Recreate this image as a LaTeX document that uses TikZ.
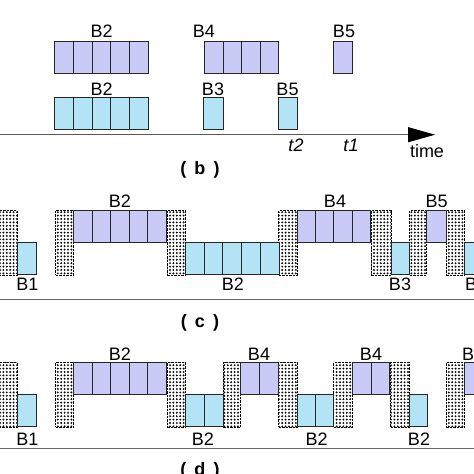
\documentclass[tikz,border=0pt]{standalone}
\usepackage{fontspec}
\setmainfont{Liberation Sans}
\usetikzlibrary{arrows.meta, patterns.meta}

\definecolor{lav}{HTML}{CACAF6}
\definecolor{sky}{HTML}{B2E4F6}

% a row of n equal slots: name, x, y, n, width, style
\newcommand{\cellrow}[6]{%
  \foreach \k in {1,...,#4}
    \node[#6, minimum width=#5pt, anchor=north west] (#1-\k) at ({#2+(\k-1)*#5},#3) {};}

\begin{document}
\begin{tikzpicture}[x=1pt, y=-1pt, font=\fontsize{18}{21}\selectfont,
  up/.style = {draw=black!85, fill=lav, line width=0.9pt, inner sep=0pt, minimum height=32pt},
  down/.style = {draw=black!85, fill=sky, line width=0.9pt, inner sep=0pt, minimum height=32pt},
  guard/.style = {draw, dash pattern=on 2.5pt off 1pt, line width=1pt, fill=white,
    postaction={pattern={Dots[distance=3.4pt, radius=1.05pt]}},
    inner sep=0pt, minimum height=64.5pt, anchor=north west},
  lbl/.style = {inner sep=0pt},
  caption/.style = {inner sep=0pt, font=\fontsize{18}{21}\selectfont\bfseries},
  rule/.style = {draw=black!60, line width=1pt}
]
\clip (0,0) rectangle (474,474);
\fill[white] (0,0) rectangle (474,474);

% (b)
\cellrow{bup2}{54.3}{40.7}{5}{18.7}{up}
\cellrow{bup4}{204}{40.7}{4}{18.6}{up}
\cellrow{bup5}{333.3}{40.7}{1}{19}{up}
\cellrow{bdn2}{54.3}{96.7}{5}{18.7}{down}
\cellrow{bdn3}{202.7}{96.7}{1}{20}{down}
\cellrow{bdn5}{278.3}{96.7}{1}{19}{down}
\node[lbl] (lb_up2) at (101.7,31.7) {B2};
\node[lbl] (lb_up4) at (204,31.7) {B4};
\node[lbl] (lb_up5) at (344,31.7) {B5};
\node[lbl] (lb_dn2) at (101.7,89) {B2};
\node[lbl] (lb_dn3) at (213,89) {B3};
\node[lbl] (lb_dn5) at (287.5,89) {B5};
\coordinate (ax_start) at (0,134.7);
\coordinate (ax_end) at (435,134.7);
\draw[black!65, line width=1pt, -{Triangle[length=27pt, width=15pt, color=black]}] (ax_start) -- (ax_end);
\node[lbl] (t2) at (296,145) {\itshape t2};
\node[lbl] (t1) at (351,145) {\itshape t1};
\node[lbl] (time) at (427,151) {time};
\node[caption] (cap_b) at (200,170) {(\hspace{0.45em}b\hspace{0.45em})};

% (c)
\node[guard, minimum width=18.7pt] (cg1) at (-2,210) {};
\node[guard, minimum width=18.3pt] (cg2) at (55,210) {};
\node[guard, minimum width=18.3pt] (cg3) at (166.7,210) {};
\node[guard, minimum width=18.4pt] (cg4) at (278.3,210) {};
\node[guard, minimum width=20pt] (cg5) at (370.7,210) {};
\node[guard, minimum width=16.7pt] (cg6) at (409.3,210) {};
\node[guard, minimum width=18.3pt] (cg7) at (445.7,210) {};
\cellrow{cdn1}{16.7}{241.7}{1}{19}{down}
\cellrow{cup2}{73.3}{210}{5}{18.5}{up}
\cellrow{cdn2}{185}{241.7}{5}{18.7}{down}
\cellrow{cup4}{296.7}{210}{4}{18.3}{up}
\cellrow{cdn3}{390.7}{241.7}{1}{18.6}{down}
\cellrow{cup5}{426}{210}{1}{19.7}{up}
\cellrow{cdnx}{464}{241.7}{1}{18}{down}
\node[lbl] (lc_up2) at (120,201) {B2};
\node[lbl] (lc_up4) at (335,201) {B4};
\node[lbl] (lc_up5) at (436.7,201) {B5};
\node[lbl] (lc_dn1) at (27.5,284) {B1};
\node[lbl] (lc_dn2) at (233,284) {B2};
\node[lbl] (lc_dn3) at (400,284) {B3};
\node[lbl, anchor=west] (lc_dnx) at (465,284) {B};
\coordinate (sep_c_l) at (0,299.3);
\coordinate (sep_c_r) at (474,299.3);
\draw[rule] (sep_c_l) -- (sep_c_r);
\node[caption] (cap_c) at (200,323) {(\hspace{0.45em}c\hspace{0.45em})};

% (d)
\node[guard, minimum width=18.7pt] (dg1) at (-2,362.3) {};
\node[guard, minimum width=18.3pt] (dg2) at (55,362.3) {};
\node[guard, minimum width=18.3pt] (dg3) at (166.7,362.3) {};
\node[guard, minimum width=17.3pt] (dg4) at (222.7,362.3) {};
\node[guard, minimum width=18.4pt] (dg5) at (278.3,362.3) {};
\node[guard, minimum width=18.4pt] (dg6) at (333.3,362.3) {};
\node[guard, minimum width=19.3pt] (dg7) at (390,362.3) {};
\node[guard, minimum width=18.3pt] (dg8) at (445.7,362.3) {};
\cellrow{ddn1}{16.7}{394}{1}{19}{down}
\cellrow{dup2}{73.3}{362.3}{5}{18.5}{up}
\cellrow{ddn2}{185}{394}{2}{18.85}{down}
\cellrow{dup4}{240}{362.3}{2}{19.15}{up}
\cellrow{ddn2b}{296.7}{394}{2}{18.3}{down}
\cellrow{dup4b}{351.7}{362.3}{2}{18.8}{up}
\cellrow{ddn2c}{409.3}{394}{1}{17.4}{down}
\cellrow{dupx}{464}{362.3}{1}{18}{up}
\node[lbl] (ld_up2) at (120,354) {B2};
\node[lbl] (ld_up4) at (259,354) {B4};
\node[lbl] (ld_up4b) at (371,354) {B4};
\node[lbl, anchor=west] (ld_upx) at (462,354) {B};
\node[lbl] (ld_dn1) at (27.5,439) {B1};
\node[lbl] (ld_dn2) at (203,439) {B2};
\node[lbl] (ld_dn2b) at (316.7,439) {B2};
\node[lbl] (ld_dn2c) at (419,439) {B2};
\coordinate (sep_d_l) at (0,448.3);
\coordinate (sep_d_r) at (474,448.3);
\draw[rule] (sep_d_l) -- (sep_d_r);
\node[caption] (cap_d) at (200,471) {(\hspace{0.45em}d\hspace{0.45em})};
\end{tikzpicture}
\end{document}
